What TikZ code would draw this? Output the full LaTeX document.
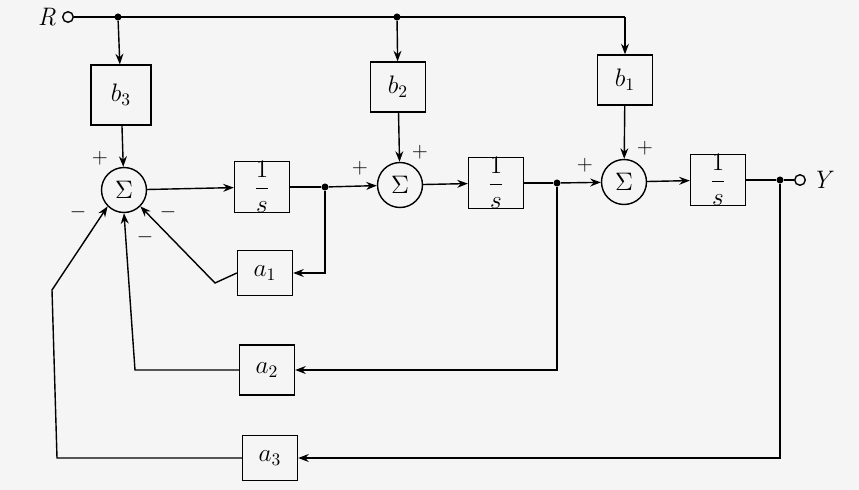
\documentclass[tikz,border=0pt]{standalone}
\usetikzlibrary{arrows.meta}
\begin{document}
\begin{tikzpicture}[x=0.02cm,y=-0.02cm,
  blk/.style={draw,thick,minimum width=1.1cm,minimum height=1.0cm,inner sep=0pt,font=\Large},
  sm/.style={draw,thick,circle,minimum size=0.9cm,inner sep=0pt,font=\Large},
  dotn/.style={circle,fill,inner sep=0pt,minimum size=4pt},
  term/.style={circle,draw,thick,inner sep=0pt,minimum size=6pt},
  ar/.style={thick,-{Stealth[length=6pt]}},
  ln/.style={thick},
  sg/.style={font=\large}]
\useasboundingbox[fill=gray!8] (0,0) rectangle (859,490);
\node[term] (R) at (68,17) {};
\node[anchor=east,font=\Large\itshape] at (R.west) {R};
\coordinate (t3) at (625,17);
\node[dotn] (d1) at (118,17) {};
\node[dotn] (d2) at (397,17) {};
\node[blk,minimum width=1.2cm,minimum height=1.2cm] (b3) at (121,95) {$b_3$};
\node[blk] (b2) at (398,87) {$b_2$};
\node[blk] (b1) at (625,80) {$b_1$};
\node[sm] (s1) at (124,190) {$\Sigma$};
\node[sm] (s2) at (400,185) {$\Sigma$};
\node[sm] (s3) at (624,182) {$\Sigma$};
\node[blk] (i1) at (262,187) {$\displaystyle\frac{1}{s}$};
\node[blk] (i2) at (496,183) {$\displaystyle\frac{1}{s}$};
\node[blk] (i3) at (718,180) {$\displaystyle\frac{1}{s}$};
\node[dotn] (p1) at (325,187) {};
\node[dotn] (p2) at (557,183) {};
\node[dotn] (p3) at (780,180) {};
\node[term] (Y) at (800,180) {};
\node[anchor=west,font=\Large\itshape] at (Y.east) {Y};
\node[blk,minimum height=0.9cm] (a1) at (265,273) {$a_1$};
\node[blk] (a2) at (267,370) {$a_2$};
\node[blk,minimum height=0.9cm] (a3) at (270,458) {$a_3$};
\draw[ln] (R) -- (t3);
\draw[ar] (d1) -- (b3); \draw[ar] (d2) -- (b2); \draw[ar] (t3) -- (b1);
\draw[ar] (b3) -- (s1); \draw[ar] (b2) -- (s2); \draw[ar] (b1) -- (s3);
\draw[ar] (s1) -- (i1); \draw[ln] (i1) -- (p1); \draw[ar] (p1) -- (s2);
\draw[ar] (s2) -- (i2); \draw[ln] (i2) -- (p2); \draw[ar] (p2) -- (s3);
\draw[ar] (s3) -- (i3); \draw[ln] (i3) -- (p3); \draw[ln] (p3) -- (Y);
\draw[ar] (p1) |- (a1.east);
\draw[ar] (p2) |- (a2.east);
\draw[ar] (p3) |- (a3.east);
\coordinate (c1) at (215,283);
\draw[ar] (a1.west) -- (c1) -- (s1.south east);
\coordinate (c2) at (135,370);
\draw[ar] (a2.west) -- (c2) -- (s1.south);
\coordinate (c3) at (57,458); \coordinate (c4) at (52,290);
\draw[ar] (a3.west) -- (c3) -- (c4) -- (s1.south west);
\node[sg] at (100,158) {$+$};
\node[sg] at (78,212) {$-$};
\node[sg] at (168,212) {$-$};
\node[sg] at (145,237) {$-$};
\node[sg] at (360,168) {$+$};
\node[sg] at (420,152) {$+$};
\node[sg] at (585,165) {$+$};
\node[sg] at (645,148) {$+$};
\end{tikzpicture}
\end{document}
